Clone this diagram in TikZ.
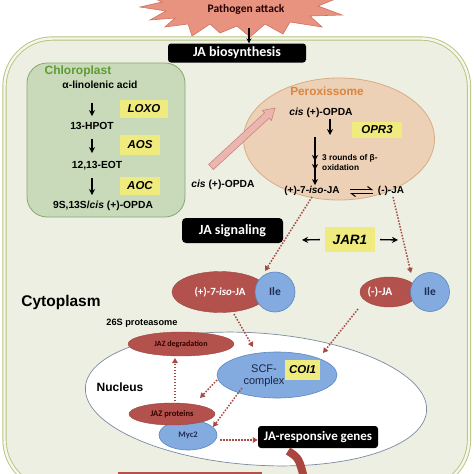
\documentclass[tikz,border=0pt]{standalone}
\usepackage{fontspec}
\setmainfont{Liberation Sans}
\newfontfamily\calib{Carlito}
\usetikzlibrary{arrows.meta,shapes.geometric,calc}
\definecolor{cellbg}{HTML}{EDEFE2}
\definecolor{cellline}{HTML}{B4C47C}
\definecolor{cellgap}{HTML}{F5F6EE}
\definecolor{burst}{HTML}{E8937F}
\definecolor{burstline}{HTML}{D0705E}
\definecolor{chlfill}{HTML}{C8DAB9}
\definecolor{chlline}{HTML}{86A86A}
\definecolor{chlgreen}{HTML}{5E9B33}
\definecolor{ybox}{HTML}{EFEB7E}
\definecolor{perox}{HTML}{EDD1B6}
\definecolor{peroxline}{HTML}{D8AC84}
\definecolor{peroxtext}{HTML}{D9853F}
\definecolor{redE}{HTML}{B3514C}
\definecolor{redline}{HTML}{9E4541}
\definecolor{blueE}{HTML}{84ABE0}
\definecolor{blueline}{HTML}{5A85C2}
\definecolor{navy}{HTML}{1F2D55}
\definecolor{dotred}{HTML}{A84A42}
\definecolor{nucline}{HTML}{7A8BA0}
\definecolor{pinkfill}{HTML}{EBB5B0}
\definecolor{pinkline}{HTML}{C98680}
\definecolor{arcred}{HTML}{A8463F}
\begin{document}
\begin{tikzpicture}[x=1pt,y=-1pt,
  lbl/.style={inner sep=1pt, text height=7.5pt, text depth=2pt, font=\bfseries\fontsize{10.3}{12}\selectfont},
  barr/.style={line width=1.4pt, -{Stealth[length=6pt,width=6pt]}},
  blackbox/.style={fill=black, rounded corners=3pt, text=white, inner sep=0pt, font=\calib\bfseries\fontsize{14}{16}\selectfont},
  yellowbox/.style={fill=ybox, inner sep=0pt, font=\bfseries\itshape\fontsize{11.5}{12}\selectfont},
  redell/.style={ellipse, fill=redE, draw=redline, line width=0.4pt, inner sep=0pt},
  blueell/.style={ellipse, fill=blueE, draw=blueline, line width=0.6pt, inner sep=0pt},
  dotarr/.style={draw=dotred, line width=1.5pt, dash pattern=on 1.5pt off 1.5pt, -{Triangle[length=5pt,width=5.5pt]}},
  harp/.style={line width=1pt, -{Straight Barb[left,length=4pt,width=6pt]}}
]
\useasboundingbox (0,0) rectangle (474,474);
\clip (0,0) rectangle (474,474);
\fill[white] (0,0) rectangle (474,474);

% cell
\draw[draw=cellline, line width=0.9pt, double=cellgap, double distance=2.4pt, fill=cellbg, rounded corners=48pt] (4.5,38.5) rectangle (469,488);

% starburst
\draw[fill=burst, draw=burstline, line width=0.6pt]
 (300,-8) -- (338,-2) -- (318,6) -- (342,15) -- (310,16) -- (322,27) -- (290,22) -- (283,34) -- (265,24) -- (250,37) -- (237,26) -- (220,33) -- (210,24) -- (192,36) -- (188,24) -- (165,27) -- (175,18) -- (150,20) -- (166,11) -- (140,7) -- (162,2) -- (145,-6) -- (175,-8) -- cycle;
\node[font=\calib\bfseries\fontsize{11.5}{13}\selectfont, text=black!85!red, inner sep=1pt] (patho) at (246,9) {Pathogen attack};
\coordinate (burstb) at (249,28);

% JA biosynthesis
\node[blackbox, minimum width=138pt, minimum height=19pt] (jab) at (237,53) {JA biosynthesis};
\draw[line width=1.1pt, -{Stealth[length=5pt,width=5pt]}] (burstb) -- (burstb |- jab.north);

% Chloroplast
\node[draw=chlline, fill=chlfill, line width=0.8pt, rounded corners=20pt, minimum width=158pt, minimum height=154pt, inner sep=0pt] (chl) at (106,140) {};
\node[text=chlgreen, font=\bfseries\fontsize{12}{14}\selectfont, inner sep=0pt] (chlt) at (78,71) {Chloroplast};
\node[lbl] (ala) at (100,86) {α-linolenic acid};
\node[lbl] (hpot) at (92,127) {13-HPOT};
\node[lbl] (eot) at (97,166) {12,13-EOT};
\node[lbl] (opda1) at (103,206) {9S,13S/\textit{cis} (+)-OPDA};
\draw[barr, shorten <=11pt, shorten >=5pt] (ala.south -| hpot.north) -- (hpot.north);
\draw[barr, shorten <=6pt, shorten >=7pt] (hpot.south) -- (hpot.south |- eot.north);
\draw[barr, shorten <=6pt, shorten >=5pt] (hpot.south |- eot.south) -- (hpot.south |- opda1.north);
\node[yellowbox, minimum width=48pt, minimum height=18pt] (loxo) at (144,109) {LOXO};
\node[yellowbox, minimum width=40pt, minimum height=20pt] (aos) at (140,145) {AOS};
\node[yellowbox, minimum width=40pt, minimum height=18pt] (aoc) at (140,186) {AOC};

% Peroxissome
\node[ellipse, fill=perox, draw=peroxline, line width=0.8pt, minimum width=191pt, minimum height=122pt, inner sep=0pt] (perox) at (339,139) {};
\node[text=peroxtext, font=\bfseries\fontsize{11.8}{13}\selectfont, inner sep=0pt] (pxt) at (327,91) {Peroxissome};
\node[lbl] (popda) at (321,113) {\textit{cis} (+)-OPDA};
\coordinate (pstep) at (330,135);
\draw[barr] (popda.south -| pstep) -- (pstep);
\node[yellowbox, minimum width=50pt, minimum height=16pt] (opr3) at (377,130) {OPR3};
\node[lbl, font=\bfseries\fontsize{10}{12}\selectfont] (pisoja) at (312,191) {(+)-7-\textit{iso}-JA};
\node[lbl, font=\bfseries\fontsize{10}{12}\selectfont] (pmja) at (391,191) {(-)-JA};
\coordinate (tstart) at (315,137);
\draw[barr] (tstart) -- ++(0,24);
\draw[barr] (tstart) -- ++(0,33);
\draw[barr] (tstart) -- (tstart |- pisoja.north);
\node[anchor=west, align=left, inner sep=0pt, font=\bfseries\fontsize{8.3}{10}\selectfont] (rounds) at (322,163) {3 rounds of β-\\oxidation};
\coordinate (hL) at (350,191.5);
\coordinate (hR) at (373,191.5);
\draw[harp] ([yshift=2pt]hL) -- ([yshift=2pt]hR);
\draw[harp] ([yshift=-2pt]hR) -- ([yshift=-2pt]hL);

% cis OPDA transfer (fat arrow)
\node[lbl] (copda) at (223,185) {\textit{cis} (+)-OPDA};
\coordinate (pT) at (211,167);
\coordinate (pH) at (275,108);
\coordinate (pB) at ($(pH)!11pt!(pT)$);
\draw[draw=pinkline, fill=pinkfill, line width=0.6pt]
  ($(pT)!3.5pt!90:(pH)$) -- ($(pB)!3.5pt!-90:(pT)$) -- ($(pB)!6.8pt!-90:(pT)$) -- (pH)
  -- ($(pB)!6.8pt!90:(pT)$) -- ($(pB)!3.5pt!90:(pT)$) -- ($(pT)!3.5pt!-90:(pH)$) -- cycle;

% JA signaling
\node[blackbox, rounded corners=4pt, minimum width=101pt, minimum height=25pt] (jas) at (232.5,230.5) {JA signaling};
\node[yellowbox, font=\bfseries\itshape\fontsize{13.5}{15}\selectfont, minimum width=50pt, minimum height=25pt] (jar1) at (350,239.5) {JAR1};
\coordinate (jl) at (302,240);
\coordinate (jr) at (398,240);
\draw[barr, line width=1.3pt, shorten <=5pt] (jar1.west) -- (jl);
\draw[barr, line width=1.3pt, shorten <=5pt] (jar1.east) -- (jr);

% cytoplasm ellipses
\node[redell, minimum width=96pt, minimum height=41pt, text=white, font=\calib\bfseries\fontsize{11}{12}\selectfont] (isoE) at (220,292) {(+)-7-\textit{iso}-JA};
\node[circle, fill=blueE, draw=blueline, line width=0.6pt, minimum size=40pt, inner sep=0pt, text=navy, font=\calib\bfseries\fontsize{11.5}{12}\selectfont] (ileA) at (275,292) {Ile};
\node[redell, minimum width=58pt, minimum height=30pt] (mjaE) at (389,292) {};
\node[text=white, font=\calib\bfseries\fontsize{11.5}{12}\selectfont, inner sep=0pt] (mjaT) at (380,292) {(-)-JA};
\node[circle, fill=blueE, draw=blueline, line width=0.6pt, minimum size=39pt, inner sep=0pt, text=navy, font=\calib\bfseries\fontsize{11.5}{12}\selectfont] (ileB) at (430,292) {Ile};

\draw[dotarr] (pisoja.south) -- ([shift={(45,-21)}]isoE.center);
\draw[dotarr] ([xshift=2pt]pmja.south) -- ([shift={(22,-19)}]mjaE.center);

\node[font=\bfseries\fontsize{15.5}{17}\selectfont, inner sep=0pt] (cyto) at (61,302) {Cytoplasm};
\node[font=\bfseries\fontsize{9.2}{10}\selectfont, inner sep=0pt] (prot) at (142,323) {26S proteasome};

% nucleus
\node[ellipse, fill=white, draw=nucline, line width=0.7pt, minimum width=342pt, minimum height=132pt, inner sep=0pt, rotate=-4] (nuc) at (256,399) {};
\node[font=\bfseries\fontsize{12}{13}\selectfont, inner sep=0pt] (nuct) at (120,387) {Nucleus};
\node[redell, minimum width=106pt, minimum height=24pt, text=black!80!red, font=\calib\bfseries\fontsize{8}{9}\selectfont] (jazd) at (181,344) {JAZ degradation};
\node[blueell, minimum width=120pt, minimum height=46pt] (scf) at (277,375) {};
\node[align=center, inner sep=0pt, text=navy!80!black, font=\fontsize{11}{12}\selectfont] (scft) at (264,376) {SCF-\\complex};
\node[yellowbox, minimum width=35pt, minimum height=20pt] (coi1) at (302.5,370) {COI1};
\node[blueell, minimum width=58pt, minimum height=30pt, text=navy, font=\calib\bfseries\fontsize{8.5}{9}\selectfont] (myc) at (188,435) {Myc2};
\node[redell, minimum width=86pt, minimum height=22pt, text=black!80!red, font=\calib\bfseries\fontsize{8.5}{9}\selectfont] (jazp) at (172,414) {JAZ proteins};
\node[blackbox, minimum width=120pt, minimum height=22pt, font=\calib\bfseries\fontsize{13}{15}\selectfont] (jarg) at (318,437) {JA-responsive genes};

\draw[dotarr] ([shift={(14,22)}]isoE.center) -- ([shift={(-24,-28)}]scf.center);
\draw[dotarr] ([shift={(-31,17)}]mjaE.center) -- ([shift={(46,-22)}]scf.center);
\draw[dotarr] ([shift={(-60,5)}]scf.center) -- ([shift={(28,-16)}]jazp.center);
\draw[dotarr] ([shift={(-35,13)}]scf.center) -- ([shift={(25,-8)}]myc.center);
\draw[dotarr] ([shift={(3,-13)}]jazp.center) -- ([shift={(-6,14)}]jazd.center);
\draw[dotarr, shorten <=3pt] ([yshift=-5pt]myc.east) -- ([yshift=-5pt]myc.east -| jarg.west);

% bottom
\node[fill=redE, minimum width=144pt, minimum height=12pt, inner sep=0pt, anchor=north west] (botbox) at (118,472) {};
\coordinate (arcE) at (305,482);
\draw[line width=8pt, draw=arcred] ([shift={(-30,14)}]jarg.center) .. controls (299,458) .. (arcE);
\end{tikzpicture}
\end{document}
